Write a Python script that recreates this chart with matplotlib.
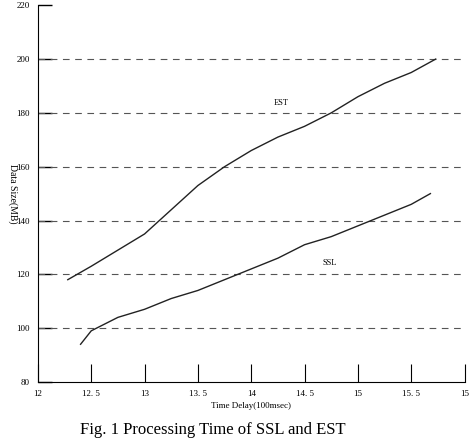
import matplotlib.pyplot as plt

est_x = [12.28, 12.5, 12.75, 13.0, 13.25, 13.5, 13.75, 14.0, 14.25, 14.5, 14.75, 15.0, 15.25, 15.5, 15.73]
est_y = [118, 123, 129, 135, 144, 153, 160, 166, 171, 175, 180, 186, 191, 195, 200]
ssl_x = [12.4, 12.5, 12.75, 13.0, 13.25, 13.5, 13.75, 14.0, 14.25, 14.5, 14.75, 15.0, 15.25, 15.5, 15.68]
ssl_y = [94, 99, 104, 107, 111, 114, 118, 122, 126, 131, 134, 138, 142, 146, 150]
x_ticks = [12, 12.5, 13, 13.5, 14, 14.5, 15, 15.5, 16]
x_labels = ['12', '12. 5', '13', '13. 5', '14', '14. 5', '15', '15. 5', '15']
y_ticks = [80, 100, 120, 140, 160, 180, 200, 220]

plt.rcParams['font.family'] = ['Liberation Serif', 'DejaVu Serif']
fig = plt.figure(figsize=(4.74, 4.38), dpi=100)
ax = fig.add_axes([0.08, 0.128, 0.9, 0.86])

for y in y_ticks[1:-1]:
    ax.axhline(y, color='#555555', lw=0.8, ls=(0, (6, 5)))
ax.plot(est_x, est_y, color='#222222', lw=1)
ax.plot(ssl_x, ssl_y, color='#222222', lw=1)
ax.text(14.28, 183, 'EST', fontsize=6, ha='center')
ax.text(14.74, 123.5, 'SSL', fontsize=6, ha='center')

ax.set_xlim(12, 16)
ax.set_ylim(80, 220)
ax.set_xticks(x_ticks, x_labels, fontsize=6.5)
ax.set_yticks(y_ticks, [str(v) for v in y_ticks], fontsize=6.5)
ax.tick_params(axis='x', direction='in', length=13, width=0.8, pad=6)
ax.tick_params(axis='y', direction='in', length=10, width=1, pad=6)
for s in ['top', 'right']:
    ax.spines[s].set_visible(False)
ax.set_xlabel('Time Delay(100msec)', fontsize=6.5, labelpad=3)
ax.set_ylabel('Data Size(MB)', fontsize=7, labelpad=6)
ax.yaxis.label.set_rotation(-90)
fig.text(0.45, 0.01, 'Fig. 1 Processing Time of SSL and EST', fontsize=12, ha='center')
fig.savefig('out.png')
